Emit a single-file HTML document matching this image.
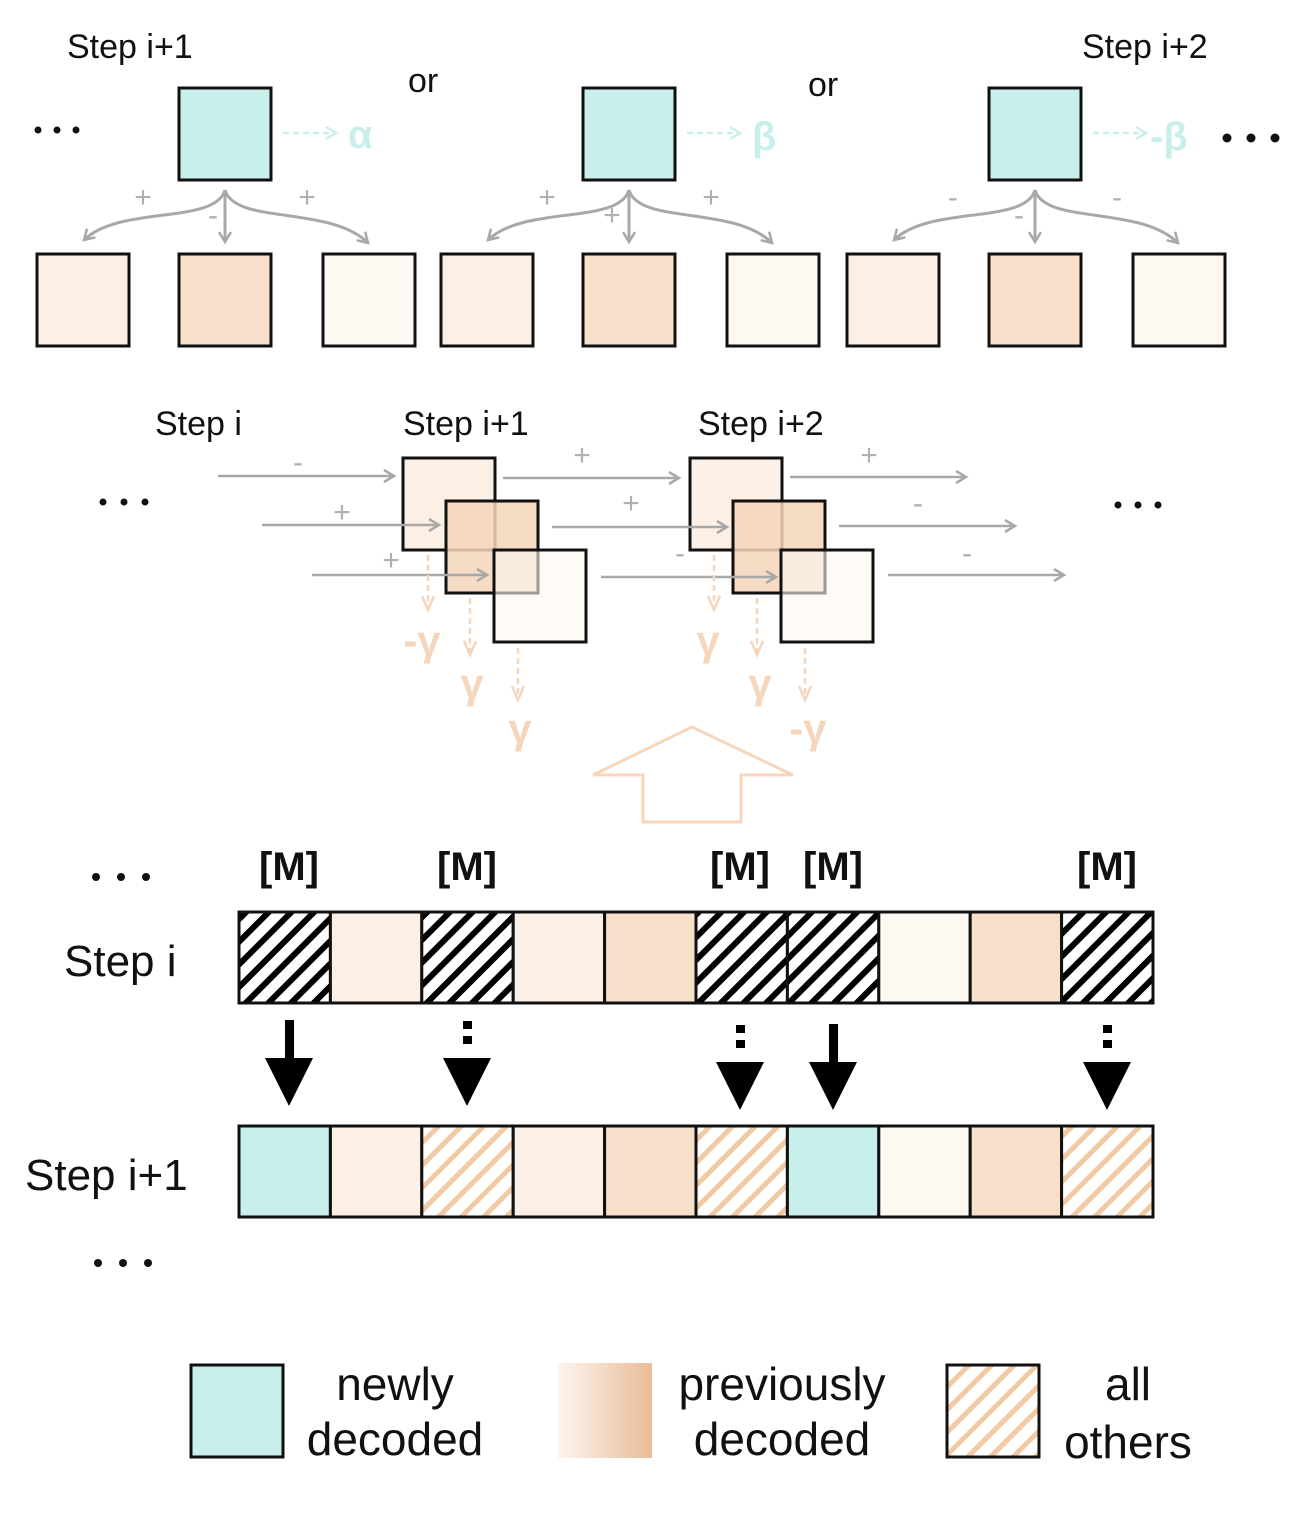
<!DOCTYPE html>
<html><head><meta charset="utf-8"><style>
html,body{margin:0;padding:0;background:#fff;}
svg{display:block;}
text{font-family:"Liberation Sans",sans-serif;}
</style></head><body>
<svg width="1300" height="1536" viewBox="0 0 1300 1536" xmlns="http://www.w3.org/2000/svg">
<defs>
<pattern id="hb" width="16" height="16" patternUnits="userSpaceOnUse" patternTransform="rotate(45)">
<rect width="16" height="16" fill="#fff"/><rect x="0" y="0" width="6" height="16" fill="#000"/></pattern>
<pattern id="ho" width="16" height="16" patternUnits="userSpaceOnUse" patternTransform="rotate(45)">
<rect width="16" height="16" fill="#fff"/><rect x="0" y="0" width="5" height="16" fill="#f2c9a2"/></pattern>
<linearGradient id="gr" x1="0" x2="1" y1="0" y2="0"><stop offset="0" stop-color="#fdf5ee"/><stop offset="1" stop-color="#e9bc98"/></linearGradient>
<marker id="ga" markerWidth="14" markerHeight="14" refX="11" refY="7" orient="auto" markerUnits="userSpaceOnUse"><path d="M1,1 L11,7 L1,13" fill="none" stroke="#a8a8a8" stroke-width="2.5"/></marker>
<marker id="ca" markerWidth="14" markerHeight="14" refX="11" refY="7" orient="auto" markerUnits="userSpaceOnUse"><path d="M1,1 L11,7 L1,13" fill="none" stroke="#c9efec" stroke-width="2.5"/></marker>
<marker id="oa" markerWidth="18" markerHeight="14" refX="15" refY="7" orient="auto" markerUnits="userSpaceOnUse"><path d="M1,1 L15,7 L1,13" fill="none" stroke="#f5d6bd" stroke-width="2.5"/></marker>
</defs>

<!-- TOP -->
<g font-size="34" fill="#111">
<text x="67" y="58">Step i+1</text>
<text x="1082" y="58">Step i+2</text>
<text x="408" y="92">or</text>
<text x="808" y="96">or</text>
</g>
<g fill="#111">
<circle cx="38" cy="130" r="3.5"/><circle cx="57" cy="130" r="3.5"/><circle cx="76" cy="130" r="3.5"/>
<circle cx="1227" cy="138" r="4.5"/><circle cx="1251" cy="138" r="4.5"/><circle cx="1275" cy="138" r="4.5"/>
</g>
<g stroke="#111" stroke-width="3">
<rect x="179" y="88" width="92" height="92" fill="#c9efec"/>
<rect x="583" y="88" width="92" height="92" fill="#c9efec"/>
<rect x="989" y="88" width="92" height="92" fill="#c9efec"/>
<rect x="37" y="254" width="92" height="92" fill="#fcefe5"/>
<rect x="179" y="254" width="92" height="92" fill="#f8dfca"/>
<rect x="323" y="254" width="92" height="92" fill="#fdf8f2"/>
<rect x="441" y="254" width="92" height="92" fill="#fcefe5"/>
<rect x="583" y="254" width="92" height="92" fill="#f8dfca"/>
<rect x="727" y="254" width="92" height="92" fill="#fdf8f2"/>
<rect x="847" y="254" width="92" height="92" fill="#fcefe5"/>
<rect x="989" y="254" width="92" height="92" fill="#f8dfca"/>
<rect x="1133" y="254" width="92" height="92" fill="#fdf8f2"/>
</g>
<g stroke="#c9efec" stroke-width="2.5" fill="none" stroke-dasharray="6,4">
<line x1="283" y1="133" x2="336" y2="133" marker-end="url(#ca)"/>
<line x1="687" y1="133" x2="740" y2="133" marker-end="url(#ca)"/>
<line x1="1093" y1="133" x2="1146" y2="133" marker-end="url(#ca)"/>
</g>
<g fill="#c9efec" font-size="40" font-weight="bold">
<text x="348" y="148">α</text><text x="752" y="150">β</text><text x="1150" y="150">-β</text>
</g>
<g stroke="#a8a8a8" stroke-width="3" fill="none">
<g id="tree">
<path d="M225,190 C215,225 120,205 84,240" marker-end="url(#ga)"/>
<path d="M225,190 L225,242" marker-end="url(#ga)"/>
<path d="M225,190 C235,225 330,205 368,243" marker-end="url(#ga)"/>
</g>
<use href="#tree" x="404"/><use href="#tree" x="810"/>
</g>
<g fill="#b0b0b0" font-size="30" text-anchor="middle">
<text x="143" y="207">+</text><text x="213" y="225">-</text><text x="307" y="207">+</text>
<text x="547" y="207">+</text><text x="612" y="225">+</text><text x="711" y="207">+</text>
<text x="953" y="207">-</text><text x="1019" y="225">-</text><text x="1117" y="207">-</text>
</g>

<!-- MIDDLE -->
<g font-size="34" fill="#111">
<text x="155" y="435">Step i</text><text x="403" y="435">Step i+1</text><text x="698" y="435">Step i+2</text>
</g>
<g fill="#111">
<circle cx="103" cy="502" r="3.5"/><circle cx="124" cy="502" r="3.5"/><circle cx="145" cy="502" r="3.5"/>
<circle cx="1118" cy="505" r="3.5"/><circle cx="1138" cy="505" r="3.5"/><circle cx="1158" cy="505" r="3.5"/>
</g>
<g stroke="#111" stroke-width="3">
<rect x="403" y="458" width="92" height="92" fill="#fcefe5"/>
<rect x="446" y="501" width="92" height="92" fill="#f5d5bb" fill-opacity="0.85"/>
<rect x="494" y="550" width="92" height="92" fill="#fdf6ef" fill-opacity="0.6"/>
<rect x="690" y="458" width="92" height="92" fill="#fcefe5"/>
<rect x="733" y="501" width="92" height="92" fill="#f5d5bb" fill-opacity="0.85"/>
<rect x="781" y="550" width="92" height="92" fill="#fdf6ef" fill-opacity="0.6"/>
</g>
<g stroke="#a8a8a8" stroke-width="2.5" fill="none">
<line x1="218" y1="476" x2="394" y2="476" marker-end="url(#ga)"/>
<line x1="262" y1="525" x2="439" y2="525" marker-end="url(#ga)"/>
<line x1="312" y1="575" x2="487" y2="575" marker-end="url(#ga)"/>
<line x1="503" y1="478" x2="679" y2="478" marker-end="url(#ga)"/>
<line x1="552" y1="527" x2="727" y2="527" marker-end="url(#ga)"/>
<line x1="601" y1="577" x2="776" y2="577" marker-end="url(#ga)"/>
<line x1="790" y1="477" x2="966" y2="477" marker-end="url(#ga)"/>
<line x1="839" y1="526" x2="1015" y2="526" marker-end="url(#ga)"/>
<line x1="888" y1="575" x2="1064" y2="575" marker-end="url(#ga)"/>
</g>
<g fill="#b0b0b0" font-size="30" text-anchor="middle">
<text x="298" y="472">-</text><text x="342" y="522">+</text><text x="391" y="570">+</text>
<text x="582" y="465">+</text><text x="631" y="513">+</text><text x="680" y="563">-</text>
<text x="869" y="465">+</text><text x="918" y="513">-</text><text x="967" y="563">-</text>
</g>
<g stroke="#f5d6bd" stroke-width="2.5" fill="none" stroke-dasharray="6,4">
<line x1="428" y1="555" x2="428" y2="610" marker-end="url(#oa)"/>
<line x1="470" y1="598" x2="470" y2="655" marker-end="url(#oa)"/>
<line x1="518" y1="648" x2="518" y2="700" marker-end="url(#oa)"/>
<line x1="714" y1="555" x2="714" y2="610" marker-end="url(#oa)"/>
<line x1="757" y1="598" x2="757" y2="655" marker-end="url(#oa)"/>
<line x1="805" y1="648" x2="805" y2="700" marker-end="url(#oa)"/>
</g>
<g fill="#f5d6bd" font-size="42" font-weight="bold" text-anchor="middle">
<text x="422" y="655">-γ</text><text x="472" y="698">γ</text><text x="520" y="743">γ</text>
<text x="708" y="655">γ</text><text x="760" y="698">γ</text><text x="808" y="743">-γ</text>
</g>
<path d="M692,727 L793,775 L741,775 L741,822 L643,822 L643,775 L593,775 Z" fill="none" stroke="#f8d6bc" stroke-width="3"/>

<!-- BOTTOM -->
<g font-size="40" fill="#111" text-anchor="middle" font-weight="bold">
<text x="289" y="880">[M]</text><text x="467" y="880">[M]</text><text x="740" y="880">[M]</text><text x="833" y="880">[M]</text><text x="1107" y="880">[M]</text>
</g>
<g fill="#111">
<circle cx="96" cy="877" r="4"/><circle cx="121" cy="877" r="4"/><circle cx="146" cy="877" r="4"/>
<circle cx="98" cy="1263" r="4"/><circle cx="123" cy="1263" r="4"/><circle cx="148" cy="1263" r="4"/>
</g>
<g font-size="44" fill="#111">
<text x="64" y="976">Step i</text><text x="25" y="1190">Step i+1</text>
</g>
<g stroke="#111" stroke-width="3">
<rect x="239" y="912" width="91.4" height="91" fill="url(#hb)"/>
<rect x="330.4" y="912" width="91.4" height="91" fill="#fcefe5"/>
<rect x="421.8" y="912" width="91.4" height="91" fill="url(#hb)"/>
<rect x="513.2" y="912" width="91.4" height="91" fill="#fcefe5"/>
<rect x="604.6" y="912" width="91.4" height="91" fill="#f8dfca"/>
<rect x="696" y="912" width="91.4" height="91" fill="url(#hb)"/>
<rect x="787.4" y="912" width="91.4" height="91" fill="url(#hb)"/>
<rect x="878.8" y="912" width="91.4" height="91" fill="#fdf8f2"/>
<rect x="970.2" y="912" width="91.4" height="91" fill="#f8dfca"/>
<rect x="1061.6" y="912" width="91.4" height="91" fill="url(#hb)"/>

<rect x="239" y="1126" width="91.4" height="91" fill="#c9efec"/>
<rect x="330.4" y="1126" width="91.4" height="91" fill="#fcefe5"/>
<rect x="421.8" y="1126" width="91.4" height="91" fill="url(#ho)"/>
<rect x="513.2" y="1126" width="91.4" height="91" fill="#fcefe5"/>
<rect x="604.6" y="1126" width="91.4" height="91" fill="#f8dfca"/>
<rect x="696" y="1126" width="91.4" height="91" fill="url(#ho)"/>
<rect x="787.4" y="1126" width="91.4" height="91" fill="#c9efec"/>
<rect x="878.8" y="1126" width="91.4" height="91" fill="#fdf8f2"/>
<rect x="970.2" y="1126" width="91.4" height="91" fill="#f8dfca"/>
<rect x="1061.6" y="1126" width="91.4" height="91" fill="url(#ho)"/>
</g>
<g fill="#000">
<rect x="285" y="1020" width="9" height="40"/><path d="M265,1058 L313,1058 L289,1106 Z"/>
<rect x="463" y="1021" width="9" height="8"/><rect x="463" y="1036" width="9" height="8"/><path d="M443,1058 L491,1058 L467,1106 Z"/>
<rect x="736" y="1025" width="9" height="8"/><rect x="736" y="1040" width="9" height="8"/><path d="M716,1062 L764,1062 L740,1110 Z"/>
<rect x="829" y="1024" width="9" height="40"/><path d="M809,1062 L857,1062 L833,1110 Z"/>
<rect x="1103" y="1025" width="9" height="8"/><rect x="1103" y="1040" width="9" height="8"/><path d="M1083,1062 L1131,1062 L1107,1110 Z"/>
</g>

<!-- LEGEND -->
<rect x="191" y="1365" width="92" height="92" fill="#c9efec" stroke="#111" stroke-width="3"/>
<rect x="558" y="1363" width="94" height="95" fill="url(#gr)"/>
<rect x="947" y="1365" width="92" height="92" fill="url(#ho)" stroke="#111" stroke-width="3"/>
<g font-size="46" fill="#111" text-anchor="middle">
<text x="395" y="1400">newly</text><text x="395" y="1455">decoded</text>
<text x="782" y="1400">previously</text><text x="782" y="1455">decoded</text>
<text x="1128" y="1400">all</text><text x="1128" y="1458">others</text>
</g>
</svg>
</body></html>
